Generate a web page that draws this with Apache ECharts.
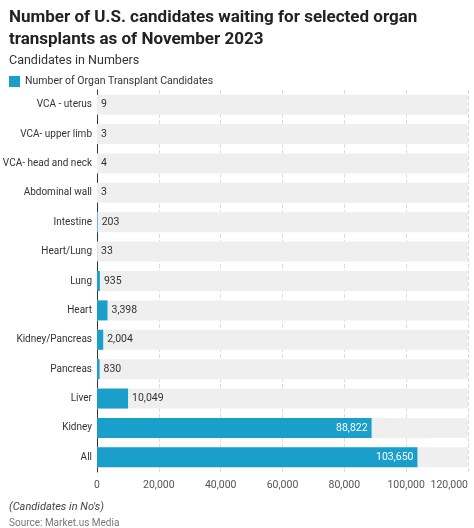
<!DOCTYPE html>
<html><head><meta charset="utf-8">
<script src="https://cdn.jsdelivr.net/npm/echarts@6/dist/echarts.min.js"></script>
<style>html,body{margin:0;padding:0;background:#fff}#c{width:474px;height:528px}</style>
</head><body><div id="c"></div>
<script>
const categories = ["VCA - uterus","VCA- upper limb","VCA- head and neck","Abdominal wall","Intestine","Heart/Lung","Lung","Heart","Kidney/Pancreas","Pancreas","Liver","Kidney","All"];
const values = [9,3,4,3,203,33,935,3398,2004,830,10049,88822,103650];
const xTicks = [0,20000,40000,60000,80000,100000,120000];
const chart = echarts.init(document.getElementById('c'));
chart.setOption({
  animation:false,
  textStyle:{fontFamily:'Roboto'},
  title:[
    {text:'Number of U.S. candidates waiting for selected organ\ntransplants as of November 2023',left:4,top:2,textStyle:{fontSize:17,fontWeight:'bold',color:'#222',lineHeight:22}},
    {text:'Candidates in Numbers',left:4,top:49,textStyle:{fontSize:12.5,fontWeight:'normal',color:'#333'}},
    {text:"(Candidates in No's)",left:4,top:497,textStyle:{fontSize:11,fontStyle:'italic',fontWeight:'normal',color:'#444'}},
    {text:'Source: Market.us Media',left:4,top:513,textStyle:{fontSize:10,fontWeight:'normal',color:'#777'}}
  ],
  legend:{left:4,top:71,itemWidth:11,itemHeight:11,icon:'rect',textStyle:{fontSize:10.5,color:'#333'},data:['Number of Organ Transplant Candidates']},
  grid:{left:97,right:6,top:90,bottom:56,outerBoundsMode:'none'},
  xAxis:{type:'value',min:0,max:120000,interval:20000,
    axisLabel:{fontSize:10.5,color:'#555',alignMaxLabel:'right',formatter:v=>v.toLocaleString('en-US')},
    splitLine:{show:true,lineStyle:{color:'#ddd',type:'dashed'}}},
  yAxis:{type:'category',data:categories,inverse:true,
    axisLine:{show:true,lineStyle:{color:'#333'}},axisTick:{show:false},
    axisLabel:{fontSize:10,color:'#333',margin:5}},
  series:[{name:'Number of Organ Transplant Candidates',type:'bar',barWidth:20,
    itemStyle:{color:'#1a9fcb'},
    showBackground:true,backgroundStyle:{color:'#efefef'},
    data:values.map(v=>({value:v,label:v>50000?{position:'insideRight',color:'#fff'}:{position:'right',color:'#333'}})),
    label:{show:true,fontSize:10.5,distance:4,formatter:p=>p.value.toLocaleString('en-US')}
  }]
});
</script></body></html>
